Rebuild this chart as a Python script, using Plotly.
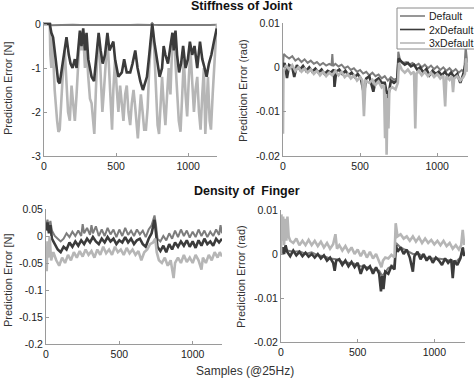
import plotly.graph_objects as go

# ---------------- DATA ----------------
series_names = ["Default", "2xDefault", "3xDefault"]

# Stiffness of Joint, force error [N]
sj_n_def_x = [0, 20, 45, 50, 100, 150, 200, 250, 300, 350, 400, 450, 500, 550, 600, 650, 700, 740, 750, 760, 800, 850, 900, 950, 1000, 1050, 1100, 1150, 1200]
sj_n_def_y = [0.005, 0.0, 0.005, -0.03, -0.02, -0.025, -0.015, -0.025, -0.02, -0.015, -0.025, -0.02, -0.02, -0.025, -0.02, -0.015, -0.02, -0.02, 0.02, -0.02, -0.025, -0.02, -0.015, -0.025, -0.02, -0.02, -0.025, -0.02, -0.015]

sj_n_2x_x = [0, 40, 51, 63, 81, 98, 109, 121, 133, 149, 156, 172, 184, 198, 214, 226, 237, 249, 260, 272, 284, 295, 307, 330, 347, 365, 379, 393, 407, 423, 440, 454, 470, 481, 493, 516, 540, 556, 574, 598, 614, 633, 649, 668, 686, 695, 714, 730, 742, 751, 765, 784, 802, 819, 830, 842, 860, 877, 891, 900, 912, 923, 937, 951, 965, 982, 998, 1012, 1028, 1044, 1063, 1082, 1098, 1114, 1128, 1144, 1161, 1179, 1198]
sj_n_2x_y = [0.0, 0.0, -0.2, -0.3, -0.8, -1.3, -1.35, -1.1, -0.8, -0.5, -0.3, -0.7, -0.9, -1.0, -0.8, -1.0, -0.6, -0.15, -0.5, -0.1, -0.6, -0.2, -0.8, -1.2, -1.3, -0.6, -0.2, -0.6, -0.9, -0.7, -0.2, -0.6, -0.5, -0.4, -0.8, -1.2, -1.1, -0.8, -1.1, -1.1, -0.9, -0.6, -1.0, -1.3, -1.5, -1.4, -1.2, -0.7, -0.2, 0.0, -0.4, -0.8, -1.2, -1.0, -0.5, -0.7, -0.9, -0.5, -0.2, -0.6, -0.15, -0.7, -1.1, -0.9, -0.5, -1.0, -0.8, -0.4, -0.7, -0.5, -1.0, -0.4, -0.8, -1.0, -1.2, -0.9, -0.7, -0.4, -0.1]

sj_n_3x_x = [0, 40, 44, 51, 58, 74, 91, 100, 109, 121, 133, 144, 156, 167, 179, 191, 202, 214, 226, 237, 249, 260, 272, 284, 295, 307, 319, 330, 342, 349, 360, 372, 381, 393, 405, 416, 430, 440, 451, 463, 472, 481, 493, 505, 516, 528, 540, 551, 563, 574, 586, 598, 609, 621, 633, 644, 651, 663, 672, 684, 695, 707, 719, 730, 742, 751, 765, 777, 788, 798, 807, 819, 830, 842, 854, 865, 877, 889, 900, 912, 923, 935, 947, 958, 970, 982, 993, 1005, 1016, 1028, 1040, 1051, 1063, 1075, 1086, 1098, 1109, 1119, 1128, 1137, 1149, 1158, 1170, 1179, 1191, 1200]
sj_n_3x_y = [0.0, 0.0, -0.7, -1.0, -0.3, -1.5, -2.2, -2.45, -2.4, -1.6, -1.0, -0.6, -1.2, -2.0, -2.2, -1.4, -1.8, -2.2, -1.6, -0.8, -0.2, -0.6, -0.2, -1.0, -0.5, -1.2, -1.7, -1.8, -2.3, -2.5, -1.5, -0.5, -0.3, -1.2, -2.0, -1.5, -0.8, -0.3, -1.0, -1.8, -2.4, -1.5, -0.8, -1.5, -2.0, -1.4, -1.8, -2.2, -1.6, -1.4, -2.0, -2.3, -1.8, -1.5, -1.9, -2.4, -2.6, -2.0, -1.6, -2.0, -2.4, -2.4, -1.9, -1.0, -0.4, 0.0, -0.6, -1.6, -2.3, -2.5, -1.8, -1.2, -1.8, -2.3, -1.6, -1.0, -1.6, -0.5, -0.2, -0.8, -1.6, -2.2, -2.45, -1.5, -0.8, -1.6, -2.1, -1.2, -0.6, -1.3, -2.0, -1.5, -1.2, -2.0, -2.4, -1.6, -1.0, -2.5, -1.8, -1.2, -2.2, -2.4, -1.6, -1.0, -0.4, 0.0]

# Stiffness of Joint, angle error (rad)
sj_r_def_x = [0, 5, 20, 40, 60, 80, 100, 120, 140, 160, 180, 200, 220, 240, 260, 280, 300, 315, 320, 325, 340, 360, 380, 400, 420, 440, 460, 480, 500, 520, 540, 560, 580, 600, 620, 640, 660, 680, 700, 720, 740, 748, 760, 780, 800, 820, 840, 860, 880, 900, 920, 940, 960, 980, 1000, 1020, 1040, 1060, 1080, 1100, 1120, 1140, 1160, 1175, 1185, 1195]
sj_r_def_y = [0.0005, 0.003, 0.0025, 0.002, 0.0025, 0.0015, 0.002, 0.0012, 0.0018, 0.001, 0.0015, 0.0008, 0.0012, 0.0005, 0.001, 0.0004, 0.0008, 0.0005, 0.003, 0.0003, 0.0008, 0.0002, 0.0006, -0.0002, 0.0002, -0.0006, -0.0002, -0.001, -0.0006, -0.0014, -0.001, -0.0018, -0.0012, -0.002, -0.0016, -0.0025, -0.002, -0.003, -0.0022, -0.0028, -0.0025, 0.0035, 0.0015, 0.001, 0.0012, 0.0006, 0.001, 0.0004, 0.0008, 0.0, 0.0006, -0.0002, 0.0004, -0.0004, 0.0002, -0.0006, 0.0, -0.0008, -0.0002, -0.001, -0.0004, -0.0012, -0.0006, -0.001, 0.0045, 0.001]

sj_r_2x_x = [0, 10, 26, 40, 60, 73, 90, 110, 130, 150, 170, 190, 210, 230, 250, 270, 290, 310, 330, 334, 345, 365, 385, 405, 425, 445, 465, 485, 505, 525, 540, 560, 586, 600, 620, 640, 660, 680, 700, 720, 740, 750, 770, 790, 810, 830, 850, 870, 890, 910, 930, 950, 970, 990, 1010, 1030, 1050, 1070, 1090, 1110, 1130, 1150, 1170, 1185, 1195]
sj_r_2x_y = [0.0, 0.001, -0.0024, 0.0005, 0.0, -0.0022, 0.0005, -0.0005, 0.0003, -0.0008, 0.0, -0.001, -0.0003, -0.0012, -0.0005, -0.0015, -0.0008, -0.0012, -0.0005, -0.0044, -0.001, -0.0005, -0.0015, -0.0008, -0.0018, -0.0012, -0.0022, -0.0015, -0.0025, -0.006, -0.0025, -0.002, -0.0055, -0.003, -0.0025, -0.0035, -0.0035, -0.007, -0.003, -0.0035, -0.003, 0.002, 0.0012, 0.0006, 0.001, 0.0002, 0.0006, -0.0005, 0.0, -0.0012, -0.0004, -0.0018, -0.0008, -0.0015, -0.001, -0.0018, -0.001, -0.002, -0.0012, -0.0022, -0.0015, -0.0035, -0.0015, 0.001, -0.0005]

sj_r_3x_x = [0, 3, 20, 40, 60, 80, 100, 120, 140, 160, 180, 200, 220, 240, 260, 280, 300, 320, 340, 360, 380, 400, 420, 440, 460, 480, 500, 515, 525, 535, 560, 580, 600, 620, 640, 655, 662, 668, 672, 678, 684, 690, 710, 730, 745, 752, 770, 790, 810, 830, 850, 858, 866, 880, 900, 920, 940, 960, 980, 1000, 1020, 1040, 1052, 1060, 1080, 1095, 1103, 1110, 1130, 1150, 1170, 1180, 1188, 1195]
sj_r_3x_y = [-0.015, -0.001, 0.0005, -0.0005, 0.0005, -0.0008, 0.0, -0.001, -0.0003, -0.0012, -0.0005, -0.0015, -0.0008, -0.0018, -0.001, -0.002, -0.0012, -0.0018, -0.0008, -0.0018, -0.001, -0.0022, -0.0015, -0.0025, -0.0018, -0.003, -0.0022, -0.003, -0.011, -0.003, -0.0035, -0.0028, -0.004, -0.0032, -0.0045, -0.004, -0.016, -0.006, -0.0197, -0.007, -0.0138, -0.005, -0.0045, -0.005, -0.0035, 0.001, -0.0005, -0.0012, -0.0005, -0.0015, -0.001, -0.0138, -0.0015, -0.0008, -0.0018, -0.001, -0.002, -0.0012, -0.0022, -0.0015, -0.0025, -0.0018, -0.0088, -0.002, -0.0028, -0.002, -0.0056, -0.0025, -0.002, -0.003, -0.0022, -0.0015, 0.002, -0.001]

# Density of Finger, force error [N]
df_n_def_x = [0, 10, 20, 30, 40, 60, 80, 100, 120, 140, 160, 180, 200, 220, 240, 250, 260, 280, 300, 310, 320, 340, 360, 380, 400, 420, 440, 460, 480, 500, 520, 540, 560, 580, 600, 620, 640, 660, 680, 700, 720, 740, 750, 760, 780, 800, 820, 840, 860, 880, 900, 920, 940, 960, 980, 1000, 1020, 1040, 1060, 1080, 1100, 1120, 1140, 1160, 1180, 1190, 1200]
df_n_def_y = [0.02, 0.03, 0.015, 0.028, 0.01, 0.0, -0.005, -0.01, -0.005, 0.005, -0.002, 0.008, 0.0, 0.01, 0.0, 0.022, 0.005, 0.015, 0.002, 0.02, 0.005, 0.018, 0.0, 0.012, 0.0, 0.015, 0.003, 0.012, -0.002, 0.012, 0.0, 0.015, 0.002, 0.01, 0.0, 0.012, 0.003, 0.01, -0.002, 0.012, 0.02, 0.038, 0.02, -0.005, -0.01, 0.0, -0.008, 0.005, -0.005, 0.01, -0.002, 0.012, 0.0, 0.01, -0.003, 0.008, -0.002, 0.012, 0.0, 0.01, -0.002, 0.008, 0.0, 0.012, 0.002, 0.02, 0.005]

df_n_2x_x = [0, 10, 20, 30, 40, 60, 80, 100, 120, 140, 160, 180, 200, 220, 240, 260, 280, 300, 320, 340, 360, 380, 400, 420, 440, 460, 480, 500, 520, 540, 560, 580, 600, 620, 640, 660, 680, 700, 720, 740, 750, 760, 780, 800, 820, 840, 860, 880, 900, 920, 940, 960, 980, 1000, 1020, 1040, 1060, 1080, 1100, 1120, 1140, 1160, 1180, 1200]
df_n_2x_y = [0.01, 0.025, 0.005, 0.02, -0.005, -0.015, -0.025, -0.03, -0.02, -0.025, -0.012, -0.02, -0.01, -0.018, -0.008, -0.015, -0.005, -0.012, -0.002, -0.01, -0.015, -0.005, -0.012, -0.002, -0.01, -0.005, -0.015, -0.008, -0.012, -0.002, -0.012, -0.005, -0.015, -0.008, -0.005, -0.015, -0.02, -0.005, 0.005, 0.03, 0.01, -0.02, -0.028, -0.018, -0.03, -0.015, -0.025, -0.012, -0.02, -0.01, -0.018, -0.008, -0.02, -0.01, -0.022, -0.008, -0.018, -0.005, -0.015, -0.01, -0.018, -0.005, -0.012, -0.005]

df_n_3x_x = [0, 5, 10, 15, 25, 35, 50, 70, 90, 110, 130, 150, 170, 190, 210, 230, 250, 270, 290, 310, 330, 350, 370, 390, 410, 430, 450, 470, 490, 510, 530, 550, 570, 590, 610, 630, 650, 670, 690, 710, 730, 745, 755, 770, 790, 810, 830, 850, 870, 880, 900, 920, 940, 960, 980, 1000, 1020, 1040, 1060, 1070, 1090, 1110, 1130, 1150, 1170, 1185, 1200]
df_n_3x_y = [-0.02, -0.065, -0.01, -0.04, 0.0, -0.045, -0.03, -0.045, -0.055, -0.04, -0.05, -0.035, -0.045, -0.03, -0.04, -0.028, -0.038, -0.025, -0.035, -0.028, -0.04, -0.025, -0.035, -0.02, -0.032, -0.025, -0.035, -0.02, -0.03, -0.025, -0.035, -0.022, -0.032, -0.025, -0.035, -0.028, -0.045, -0.03, -0.025, -0.015, -0.012, -0.005, -0.03, -0.045, -0.05, -0.04, -0.055, -0.045, -0.078, -0.05, -0.04, -0.05, -0.035, -0.048, -0.04, -0.05, -0.035, -0.045, -0.062, -0.04, -0.05, -0.035, -0.045, -0.03, -0.04, -0.03, -0.038]

# Density of Finger, angle error (rad)
df_r_def_x = [0, 20, 40, 80, 120, 160, 200, 240, 280, 320, 360, 400, 440, 480, 520, 560, 600, 640, 660, 700, 740, 750, 780, 820, 860, 900, 940, 980, 1020, 1060, 1100, 1140, 1170, 1190]
df_r_def_y = [0.0005, 0.001, 0.0008, 0.0005, 0.0006, 0.0, 0.0004, -0.0003, -0.0005, -0.001, -0.0012, -0.0018, -0.002, -0.0022, -0.0028, -0.003, -0.0035, -0.0038, -0.005, -0.0032, -0.0025, 0.0025, 0.0015, 0.0008, 0.0, 0.0, -0.0008, -0.001, -0.001, -0.0012, -0.0015, -0.0018, -0.0008, 0.0015]

df_r_2x_x = [0, 10, 20, 30, 40, 60, 80, 100, 120, 140, 160, 180, 200, 220, 240, 260, 280, 300, 320, 340, 350, 360, 380, 400, 420, 440, 460, 480, 500, 520, 540, 560, 580, 600, 620, 640, 652, 660, 668, 680, 700, 720, 740, 750, 760, 780, 800, 820, 840, 860, 870, 890, 910, 930, 950, 970, 990, 1010, 1030, 1050, 1070, 1090, 1110, 1120, 1130, 1150, 1170, 1185, 1195]
df_r_2x_y = [0.0, 0.0015, 0.0, 0.002, 0.0005, -0.0005, 0.0008, -0.0003, 0.0005, -0.0005, 0.0003, -0.0006, 0.0, -0.0008, 0.0, -0.001, -0.0003, -0.0015, -0.0008, -0.002, -0.0038, -0.0015, -0.0012, -0.0025, -0.0015, -0.0028, -0.0018, -0.003, -0.002, -0.0045, -0.0025, -0.0035, -0.0028, -0.0045, -0.003, -0.0045, -0.0085, -0.005, -0.008, -0.004, -0.0045, -0.0028, -0.0035, 0.002, 0.0005, 0.0015, 0.0, 0.001, -0.0008, -0.004, -0.0005, 0.0005, -0.0012, 0.0, -0.0015, -0.0005, -0.002, -0.0008, -0.0015, -0.0025, -0.001, -0.002, -0.0012, -0.0055, -0.0015, -0.0025, -0.001, 0.0015, -0.0005]

df_r_3x_x = [0, 3, 8, 14, 20, 28, 35, 42, 50, 60, 80, 100, 120, 140, 160, 180, 200, 220, 240, 260, 280, 300, 320, 340, 355, 365, 380, 400, 420, 440, 460, 480, 500, 520, 540, 560, 580, 600, 620, 640, 655, 665, 680, 700, 720, 740, 748, 760, 780, 800, 820, 840, 860, 880, 900, 920, 940, 960, 980, 1000, 1020, 1040, 1060, 1080, 1100, 1120, 1140, 1160, 1175, 1185, 1195]
df_r_3x_y = [0.0, 0.009, 0.003, 0.0085, 0.002, 0.008, 0.003, 0.0085, 0.004, 0.003, 0.0025, 0.0035, 0.002, 0.003, 0.002, 0.0032, 0.002, 0.003, 0.0018, 0.0028, 0.0015, 0.0025, 0.0012, 0.0022, 0.0045, 0.0012, 0.002, 0.0008, 0.0018, 0.0005, 0.0015, 0.0, 0.001, -0.0005, 0.0008, -0.0008, 0.0005, -0.001, 0.0, -0.0015, -0.003, -0.0015, -0.0008, -0.001, -0.0002, -0.0008, 0.007, 0.004, 0.0045, 0.0035, 0.004, 0.003, 0.004, 0.0028, 0.0038, 0.0025, 0.0035, 0.0025, 0.0032, 0.0022, 0.003, 0.002, 0.003, 0.0018, 0.0025, 0.0012, 0.002, 0.001, 0.002, 0.0055, 0.002]

# ticks
x_ticks = [0, 500, 1000]
x_tick_text = ["0", "500", "1000"]
y_ticks_n_top = [-3, -2, -1, 0]
y_tick_text_n_top = ["-3", "-2", "-1", "0"]
y_ticks_rad = [-0.02, -0.01, 0, 0.01]
y_tick_text_rad = ["-0.02", "-0.01", "0", "0.01"]
y_ticks_n_bot = [-0.2, -0.15, -0.1, -0.05, 0, 0.05]
y_tick_text_n_bot = ["-0.2", "-0.15", "-0.1", "-0.05", "0", "0.05"]

titles = ["Stiffness of Joint", "Density of\u00a0 Finger"]
ylabel_n = "Prediction Error [N]"
ylabel_rad = "Prediction Error (rad)"
xlabel = "Samples (@25Hz)"

# ---------------- STYLE ----------------
colors = {"Default": "#7d7d7d", "2xDefault": "#3b3b3b", "3xDefault": "#b6b6b6"}
widths = {"Default": 2.0, "2xDefault": 2.6, "3xDefault": 2.6}
FONT = "Liberation Sans, Arial, Helvetica, sans-serif"
W, H = 474, 379

fig = go.Figure()

panels = [
    ("", [("Default", sj_n_def_x, sj_n_def_y), ("3xDefault", sj_n_3x_x, sj_n_3x_y), ("2xDefault", sj_n_2x_x, sj_n_2x_y)]),
    ("2", [("Default", sj_r_def_x, sj_r_def_y), ("2xDefault", sj_r_2x_x, sj_r_2x_y), ("3xDefault", sj_r_3x_x, sj_r_3x_y)]),
    ("3", [("Default", df_n_def_x, df_n_def_y), ("2xDefault", df_n_2x_x, df_n_2x_y), ("3xDefault", df_n_3x_x, df_n_3x_y)]),
    ("4", [("Default", df_r_def_x, df_r_def_y), ("2xDefault", df_r_2x_x, df_r_2x_y), ("3xDefault", df_r_3x_x, df_r_3x_y)]),
]
for suffix, traces in panels:
    for name, xs, ys in traces:
        fig.add_trace(go.Scatter(
            x=xs, y=ys, mode="lines", name=name,
            line=dict(color=colors[name], width=widths[name]),
            xaxis="x" + suffix, yaxis="y" + suffix,
            showlegend=False,
        ))

def px_x(p):
    return p / W

def px_y(p):
    return 1 - p / H

axis_common = dict(
    showline=True, linecolor="#9a9a9a", linewidth=1,
    ticks="inside", ticklen=3, tickcolor="#9a9a9a",
    showgrid=False, zeroline=False, mirror=False,
    tickfont=dict(family=FONT, size=10.5, color="#222222"),
    tickmode="array", automargin=False,
)

layout = dict(
    width=W, height=H, margin=dict(l=0, r=0, t=0, b=0, pad=0, autoexpand=False),
    paper_bgcolor="white", plot_bgcolor="white",
    font=dict(family=FONT, color="#222222"),
    showlegend=False,
)

layout["xaxis"] = dict(axis_common, domain=[px_x(44), px_x(217)], range=[0, 1200],
                       tickvals=x_ticks, ticktext=x_tick_text, anchor="y")
layout["yaxis"] = dict(axis_common, domain=[px_y(156), px_y(21.8)], range=[-3, 0.05],
                       tickvals=y_ticks_n_top, ticktext=y_tick_text_n_top, anchor="x")
layout["xaxis2"] = dict(axis_common, domain=[px_x(283), px_x(468)], range=[0, 1200],
                        tickvals=x_ticks, ticktext=x_tick_text, anchor="y2")
layout["yaxis2"] = dict(axis_common, domain=[px_y(156), px_y(23)], range=[-0.02, 0.01],
                        tickvals=y_ticks_rad, ticktext=y_tick_text_rad, anchor="x2")
layout["xaxis3"] = dict(axis_common, domain=[px_x(46), px_x(222)], range=[0, 1200],
                        tickvals=x_ticks, ticktext=x_tick_text, anchor="y3")
layout["yaxis3"] = dict(axis_common, domain=[px_y(344), px_y(209)], range=[-0.2, 0.05],
                        tickvals=y_ticks_n_bot, ticktext=y_tick_text_n_bot, anchor="x3")
layout["xaxis4"] = dict(axis_common, domain=[px_x(281), px_x(465)], range=[0, 1200],
                        tickvals=x_ticks, ticktext=x_tick_text, anchor="y4")
layout["yaxis4"] = dict(axis_common, domain=[px_y(342), px_y(210)], range=[-0.02, 0.01],
                        tickvals=y_ticks_rad, ticktext=y_tick_text_rad, anchor="x4")

fig.update_layout(**layout)

ann = []
shapes = []
ann.append(dict(text="<b>" + titles[0] + "</b>", x=px_x(242), y=px_y(6), xref="paper", yref="paper",
                showarrow=False, xanchor="center", yanchor="middle",
                font=dict(family=FONT, size=12.5, color="#111111")))
ann.append(dict(text="<b>" + titles[1] + "</b>", x=px_x(247), y=px_y(191), xref="paper", yref="paper",
                showarrow=False, xanchor="center", yanchor="middle",
                font=dict(family=FONT, size=12.5, color="#111111")))
for text, cx, cy in [(ylabel_n, 8, 88), (ylabel_rad, 243, 90), (ylabel_n, 8, 280), (ylabel_rad, 241, 277)]:
    ann.append(dict(text=text, x=px_x(cx), y=px_y(cy), xref="paper", yref="paper",
                    showarrow=False, xanchor="center", yanchor="middle", textangle=-90,
                    font=dict(family=FONT, size=11, color="#333333")))
ann.append(dict(text=xlabel, x=px_x(245), y=px_y(371), xref="paper", yref="paper",
                showarrow=False, xanchor="center", yanchor="middle",
                font=dict(family=FONT, size=12, color="#333333")))

# legend box (key for the three series)
shapes.append(dict(type="rect", xref="paper", yref="paper",
                   x0=px_x(397), x1=px_x(476), y0=px_y(49), y1=px_y(8),
                   line=dict(color="#8a8a8a", width=1), fillcolor="white", layer="above"))
for i, name in enumerate(series_names):
    yy = 16 + i * 13.5
    shapes.append(dict(type="line", xref="paper", yref="paper",
                       x0=px_x(400), x1=px_x(425), y0=px_y(yy), y1=px_y(yy),
                       line=dict(color=colors[name], width=1.6), layer="above"))
    ann.append(dict(text=name, x=px_x(427), y=px_y(yy), xref="paper", yref="paper",
                    showarrow=False, xanchor="left", yanchor="middle",
                    font=dict(family=FONT, size=10.5, color="#222222")))

fig.update_layout(annotations=ann, shapes=shapes)

fig.write_html("out.html",
               config={"displayModeBar": False, "staticPlot": True},
               post_script="document.body.style.margin='0px';document.body.style.padding='0px';document.body.style.overflow='hidden';")
